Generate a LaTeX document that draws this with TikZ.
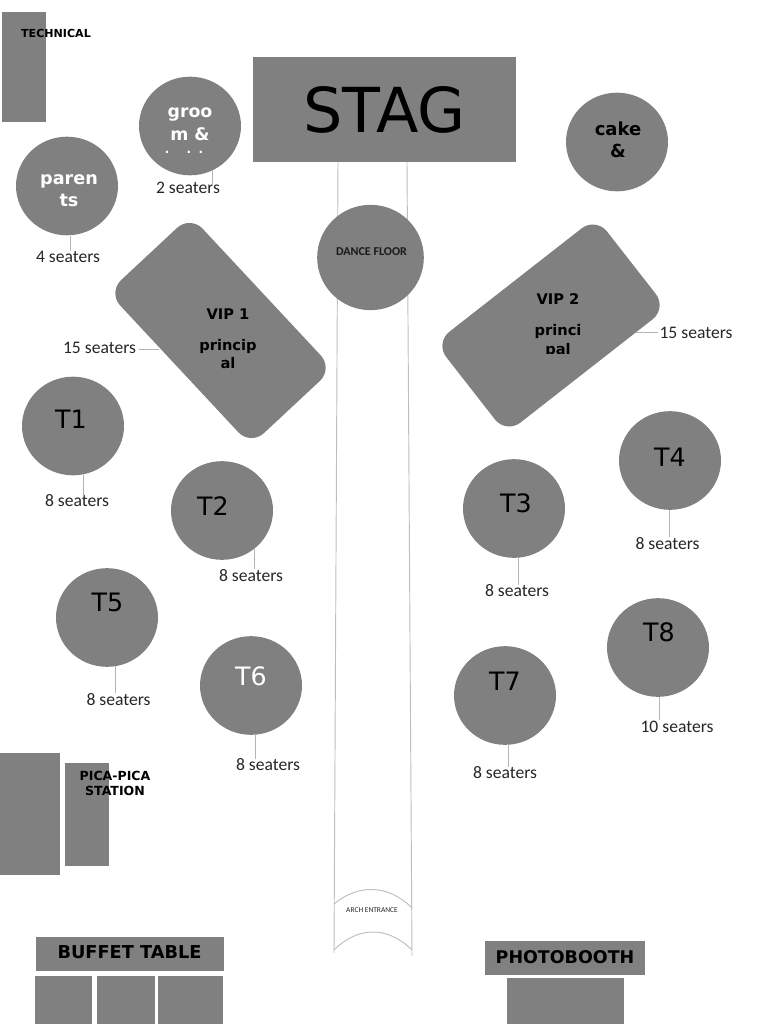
\documentclass[tikz,border=0pt]{standalone}
\usepackage{fontspec}
\setmainfont{DejaVu Sans}
\newfontfamily\carl{Carlito}
\usetikzlibrary{shapes.geometric}
\definecolor{tbl}{HTML}{808080}
\definecolor{leadc}{HTML}{B4B4B4}
\definecolor{runc}{HTML}{BDBDBD}
\definecolor{seatc}{HTML}{262626}
\tikzset{
  rtable/.style={ellipse,fill=tbl,inner sep=0pt,minimum width=76.5pt,minimum height=74pt},
  block/.style={rectangle,fill=tbl,inner sep=0pt},
  viptable/.style={rectangle,rounded corners=13.5pt,fill=tbl,inner sep=0pt},
  lbl/.style={inner sep=0pt,align=center,font=\bfseries\fontsize{13.5}{16}\selectfont},
  tno/.style={inner sep=0pt,font=\fontsize{19}{22}\selectfont},
  seat/.style={inner sep=0pt,text=seatc,font=\carl\fontsize{13.2}{15}\selectfont},
  lead/.style={draw=leadc,line width=0.7pt},
  run/.style={draw=runc,line width=0.7pt},
}
\begin{document}
\begin{tikzpicture}[x=0.75pt,y=-0.75pt]
\useasboundingbox (0,0) rectangle (768,1024);
% runway
\coordinate (rl1) at (338,162); \coordinate (rl2) at (334,953);
\coordinate (rr1) at (407,162); \coordinate (rr2) at (412,956);
\coordinate (a1l) at (334,904); \coordinate (a1r) at (412,908);
\coordinate (a2l) at (334,950); \coordinate (a2r) at (412,950);
\draw[run] (rl1) -- (rl2);
\draw[run] (rr1) -- (rr2);
\draw[run] (a1l) .. controls (358,884) and (388,884) .. (a1r);
\draw[run] (a2l) .. controls (358,926) and (388,926) .. (a2r);
\node[inner sep=0pt,text=seatc,font=\carl\fontsize{5.6}{7}\selectfont] (arch) at (372,910) {ARCH ENTRANCE};
% rectangles
\node[block,minimum width=33pt,minimum height=82.5pt] (tech) at (24,67) {};
\node[lbl,font=\bfseries\fontsize{8.3}{10}\selectfont] (techl) at (56,33) {TECHNICAL};
\node[block,minimum width=197pt,minimum height=79pt] (stag) at (384.5,109.5) {};
\node[inner sep=0pt,font=\fontsize{46.5}{50}\selectfont] (stagl) at (384.5,109.5) {STAG};
\node[block,minimum width=45pt,minimum height=91.5pt] (pica1) at (30,814) {};
\node[block,minimum width=33pt,minimum height=77pt] (pica2) at (87,814.5) {};
\node[lbl,font=\bfseries\fontsize{9.4}{11.3}\selectfont] (pical) at (115,783.5) {PICA-PICA\\STATION};
\node[block,minimum width=141pt,minimum height=25.5pt] (buffet) at (130,954) {};
\node[lbl,font=\bfseries\fontsize{13.3}{16}\selectfont] (buffetl) at (129.5,952.5) {BUFFET TABLE};
\node[block,minimum width=42.75pt,minimum height=36pt] (b1) at (63.5,1000) {};
\node[block,minimum width=43.5pt,minimum height=36pt] (b2) at (126,1000) {};
\node[block,minimum width=48.75pt,minimum height=36pt] (b3) at (190.5,1000) {};
\node[block,minimum width=120pt,minimum height=25.5pt] (photo) at (565,958) {};
\node[lbl,font=\bfseries\fontsize{13.1}{16}\selectfont] (photol) at (565,957) {PHOTOBOOTH};
\node[block,minimum width=87.75pt,minimum height=34.5pt] (ph2) at (565.5,1001) {};
% round tables
\node[rtable] (groom) at (190,126) {};
\node[rtable] (parents) at (67,186) {};
\node[rtable] (cake) at (617,142) {};
\node[rtable,minimum width=80pt,minimum height=79pt] (dance) at (370.5,257.5) {};
\node[rtable] (T1) at (73,426) {};
\node[rtable] (T2) at (222,510.5) {};
\node[rtable] (T3) at (514,508.5) {};
\node[rtable] (T4) at (670,460.5) {};
\node[rtable] (T5) at (107,617.5) {};
\node[rtable] (T6) at (251,685.5) {};
\node[rtable] (T7) at (505,695.5) {};
\node[rtable] (T8) at (658,647.5) {};
% VIP
\node[viptable,minimum width=157pt,minimum height=84.5pt,rotate=-47] (vip1) at (220.5,330.5) {};
\node[viptable,minimum width=153pt,minimum height=86.5pt,rotate=38] (vip2) at (551,325.5) {};
% labels
\node[lbl,text=white,font=\bfseries\fontsize{13}{17}\selectfont] (groomt) at (190,124.5) {groo\\m \&};
\node[inner sep=0pt,text=white,font=\bfseries\fontsize{9}{9}\selectfont] (groomd) at (184,152) {.\hspace{13pt}.\hspace{5.5pt}.};
\node[lbl,text=white,font=\bfseries\fontsize{13.2}{16.5}\selectfont] (parentst) at (69,191) {paren\\ts};
\node[lbl,font=\bfseries\fontsize{13.5}{16.5}\selectfont] (caket) at (618,140) {cake\\\&};
\node[inner sep=0pt,text=black!90,font=\carl\bfseries\fontsize{9}{11}\selectfont] (dancet) at (371.5,251.5) {DANCE FLOOR};
\node[lbl,font=\bfseries\fontsize{11}{13}\selectfont] (v1a) at (228,314) {VIP 1};
\node[lbl,font=\bfseries\fontsize{11}{14.2}\selectfont] (v1b) at (228,354) {princip\\al};
\node[lbl,font=\bfseries\fontsize{11}{13}\selectfont] (v2a) at (558,299.5) {VIP 2};
\begin{scope}
\clip (500,318) rectangle (620,353.5);
\node[lbl,font=\bfseries\fontsize{11}{14.2}\selectfont] (v2b) at (558,340.5) {princi\\pal};
\end{scope}
\node[tno] (t1t) at (71,419) {T1};
\node[tno] (t2t) at (213,506) {T2};
\node[tno] (t3t) at (516,503) {T3};
\node[tno] (t4t) at (670,457) {T4};
\node[tno] (t5t) at (107.5,602) {T5};
\node[tno,text=white] (t6t) at (251,676) {T6};
\node[tno] (t7t) at (505,681) {T7};
\node[tno] (t8t) at (659,632) {T8};
% seaters
\node[seat] (sg) at (188,187.5) {2 seaters};
\node[seat] (sp) at (68,257) {4 seaters};
\node[seat] (sv1) at (99.5,348) {15 seaters};
\node[seat] (sv2) at (696,333) {15 seaters};
\node[seat] (s1) at (77,501) {8 seaters};
\node[seat] (s2) at (251,575.5) {8 seaters};
\node[seat] (s3) at (517,591) {8 seaters};
\node[seat] (s4) at (667.5,543.5) {8 seaters};
\node[seat] (s5) at (118.5,699.5) {8 seaters};
\node[seat] (s6) at (268,765) {8 seaters};
\node[seat] (s7) at (505,773) {8 seaters};
\node[seat] (s8) at (677,726.5) {10 seaters};
% leaders
\coordinate (lg) at (212,170); \coordinate (lge) at (212,186);
\coordinate (lv1) at (159,349); \coordinate (lv2) at (636,332);
\draw[lead] (lg) -- (lge);
\draw[lead] (parents.south) ++(3,0) coordinate (lp) -- (lp |- sp.north);
\draw[lead] (sv1.east |- lv1) ++(3,0) -- (lv1);
\draw[lead] (sv2.west |- lv2) ++(-1,0) -- (lv2);
\draw[lead] (T1.-78) -- (T1.-78 |- s1.north);
\draw[lead] (T2.-50) ++(0,-1) coordinate (l2) -- (l2 |- s2.north);
\draw[lead] (T3.-85) -- (T3.-85 |- s3.north);
\draw[lead] (T4.-91) -- (T4.-91 |- s4.north);
\draw[lead] (T5.-80) -- (T5.-80 |- s5.north);
\draw[lead] (T6.-85) -- (T6.-85 |- s6.north);
\draw[lead] (T7.-86) -- (T7.-86 |- s7.north);
\draw[lead] (T8.-88) -- (T8.-88 |- s8.north);
\end{tikzpicture}
\end{document}
